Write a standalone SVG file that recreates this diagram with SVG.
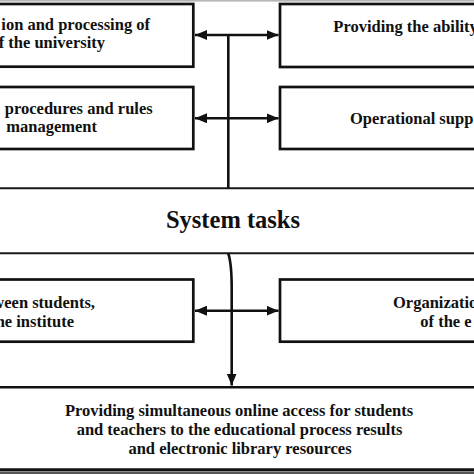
<svg xmlns="http://www.w3.org/2000/svg" width="474" height="474" viewBox="0 0 474 474">
<style>
.box{fill:#fff;stroke:#111;stroke-width:2.7}
.band{stroke:#1a1a1a;stroke-width:2}
.t{font-family:"Liberation Serif","Times New Roman",serif;font-weight:bold;font-size:16.5px;fill:#111}
.title{font-family:"Liberation Serif","Times New Roman",serif;font-weight:bold;font-size:24.5px;fill:#111}
.c{fill:none;stroke:#111;stroke-width:2.6}
</style>
<defs>
<marker id="ah" viewBox="0 0 12 10" refX="12" refY="5" markerWidth="12" markerHeight="10" markerUnits="userSpaceOnUse" orient="auto-start-reverse">
<path d="M0,0 L12,5 L0,10 Z" fill="#111"/>
</marker>
</defs>
<rect x="0" y="0" width="474" height="1.6" fill="#b5b5b5"/>
<g id="node-top-left">
<rect class="box" x="-10" y="4" width="203.3" height="62.7"/>
<text class="t" x="150" y="29.5" text-anchor="end">ion and processing of</text>
<text class="t" x="105" y="47.5" text-anchor="end">f the university</text>
</g>
<g id="node-top-right">
<rect class="box" x="280" y="4" width="204" height="63"/>
<text class="t" x="333.3" y="32.3">Providing the ability</text>
</g>
<g id="node-mid-left">
<rect class="box" x="-10" y="87" width="203.3" height="62"/>
<text class="t" x="152.7" y="113.5" text-anchor="end">procedures and rules</text>
<text class="t" x="97" y="131.5" text-anchor="end">management</text>
</g>
<g id="node-mid-right">
<rect class="box" x="280" y="87" width="204" height="62"/>
<text class="t" x="350" y="123.5">Operational supp</text>
</g>
<g id="node-system-tasks">
<line class="band" x1="0" y1="188.3" x2="474" y2="188.3"/>
<line class="band" x1="0" y1="253.3" x2="474" y2="253.3"/>
<text class="title" x="233" y="228" text-anchor="middle">System tasks</text>
</g>
<g id="node-low-left">
<rect class="box" x="-10" y="279.5" width="203.3" height="62.2"/>
<text class="t" x="95" y="307.5" text-anchor="end">ween students,</text>
<text class="t" x="74" y="326.5" text-anchor="end">he institute</text>
</g>
<g id="node-low-right">
<rect class="box" x="280" y="279.5" width="204" height="62.2"/>
<text class="t" x="393" y="307.5">Organizatio</text>
<text class="t" x="420.3" y="326.7">of the e</text>
</g>
<g id="node-bottom">
<line x1="0" y1="387.3" x2="474" y2="387.3" stroke="#111" stroke-width="2.6"/>
<line x1="0" y1="469.8" x2="474" y2="469.8" stroke="#111" stroke-width="3"/>
<rect x="0" y="471.5" width="474" height="2.5" fill="#555"/>
<text class="t" x="239" y="416" text-anchor="middle">Providing simultaneous online access for students</text>
<text class="t" x="239.5" y="435" text-anchor="middle">and teachers to the educational process results</text>
<text class="t" x="240" y="454" text-anchor="middle">and electronic library resources</text>
</g>
<g id="connectors">
<line class="c" x1="195" y1="35" x2="278.5" y2="35" marker-start="url(#ah)" marker-end="url(#ah)"/>
<line class="c" x1="228.3" y1="35" x2="228.3" y2="188"/>
<line class="c" x1="195" y1="118.3" x2="278.5" y2="118.3" marker-start="url(#ah)" marker-end="url(#ah)"/>
<line class="c" x1="195" y1="310.7" x2="278.5" y2="310.7" marker-start="url(#ah)" marker-end="url(#ah)"/>
<path class="c" d="M228.3,253.5 Q231.8,264 231.7,290 L231.7,385.5" marker-end="url(#ah)"/>
</g>
</svg>
